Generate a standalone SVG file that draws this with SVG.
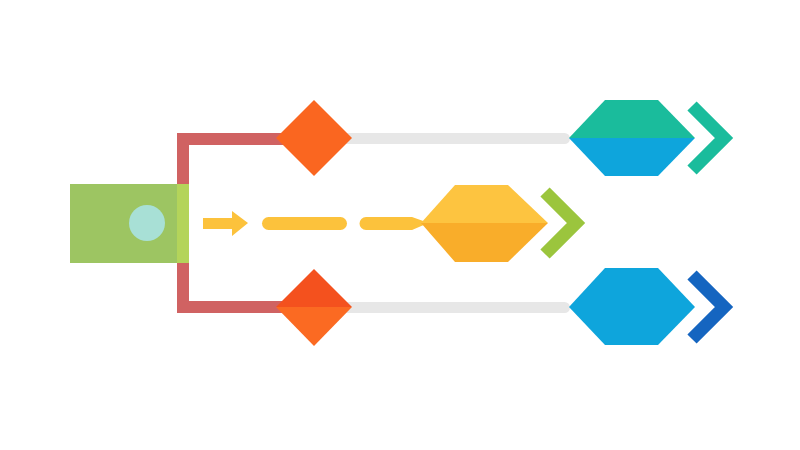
<svg xmlns="http://www.w3.org/2000/svg" width="800" height="450" viewBox="0 0 800 450">
  <defs>
    <style>
      .bracket { fill: #D06262; }
      .track { fill: #E7E7E7; }
      .yellow { fill: #FCC23C; }
      .chev { fill: none; stroke-width: 13; stroke-linejoin: miter; stroke-linecap: butt; }
    </style>
  </defs>
  <rect width="800" height="450" fill="#FFFFFF"/>

  <g id="connectors">
    <rect class="bracket" x="177" y="133" width="12" height="180"/>
    <rect class="bracket" x="177" y="133" width="110" height="12"/>
    <rect class="bracket" x="177" y="301" width="110" height="12"/>
    <rect class="track" x="340" y="133" width="230" height="11" rx="5.5"/>
    <rect class="track" x="340" y="302" width="230" height="11" rx="5.5"/>
    <polygon class="yellow" points="203,218 232,218 232,211 248,223 232,236 232,229 203,229"/>
    <rect class="yellow" x="262" y="217" width="85" height="13" rx="6.5"/>
    <path class="yellow" d="M366,217 L412,217 L426,222 L426,224 L412,230 L366,230 A6.5,6.5 0 0 1 366,217 Z"/>
  </g>

  <g id="start">
    <rect x="70" y="184" width="108" height="79" fill="#9DC562"/>
    <rect x="177" y="184" width="12" height="79" fill="#B4D45A"/>
    <circle cx="147" cy="223" r="18" fill="#A8E0D6"/>
  </g>

  <g id="diamond-top">
    <polygon points="314,100 352,138 314,176 276,138" fill="#FA6620"/>
  </g>

  <g id="diamond-bottom">
    <polygon points="314,269 352,307 276,307" fill="#F4511E"/>
    <polygon points="276,307 352,307 314,346" fill="#FB6A22"/>
  </g>

  <g id="hex-middle">
    <polygon points="421,223 455,185 508,185 548,223" fill="#FDC440"/>
    <polygon points="421,223 548,223 508,262 455,262" fill="#F9AD2A"/>
    <polyline class="chev" points="545,192 576,223 545,254" stroke="#9BC53D"/>
  </g>

  <g id="hex-top">
    <polygon points="569,138 605,100 658,100 695,138" fill="#1ABC9C"/>
    <polygon points="569,138 695,138 658,176 605,176" fill="#0EA5DC"/>
    <polyline class="chev" points="692,106 724,138 692,170" stroke="#1ABC9C"/>
  </g>

  <g id="hex-bottom">
    <polygon points="569,307 605,268 658,268 695,307 658,345 605,345" fill="#0EA5DC"/>
    <polyline class="chev" points="692,275 724,307 692,339" stroke="#1565C0"/>
  </g>
</svg>
